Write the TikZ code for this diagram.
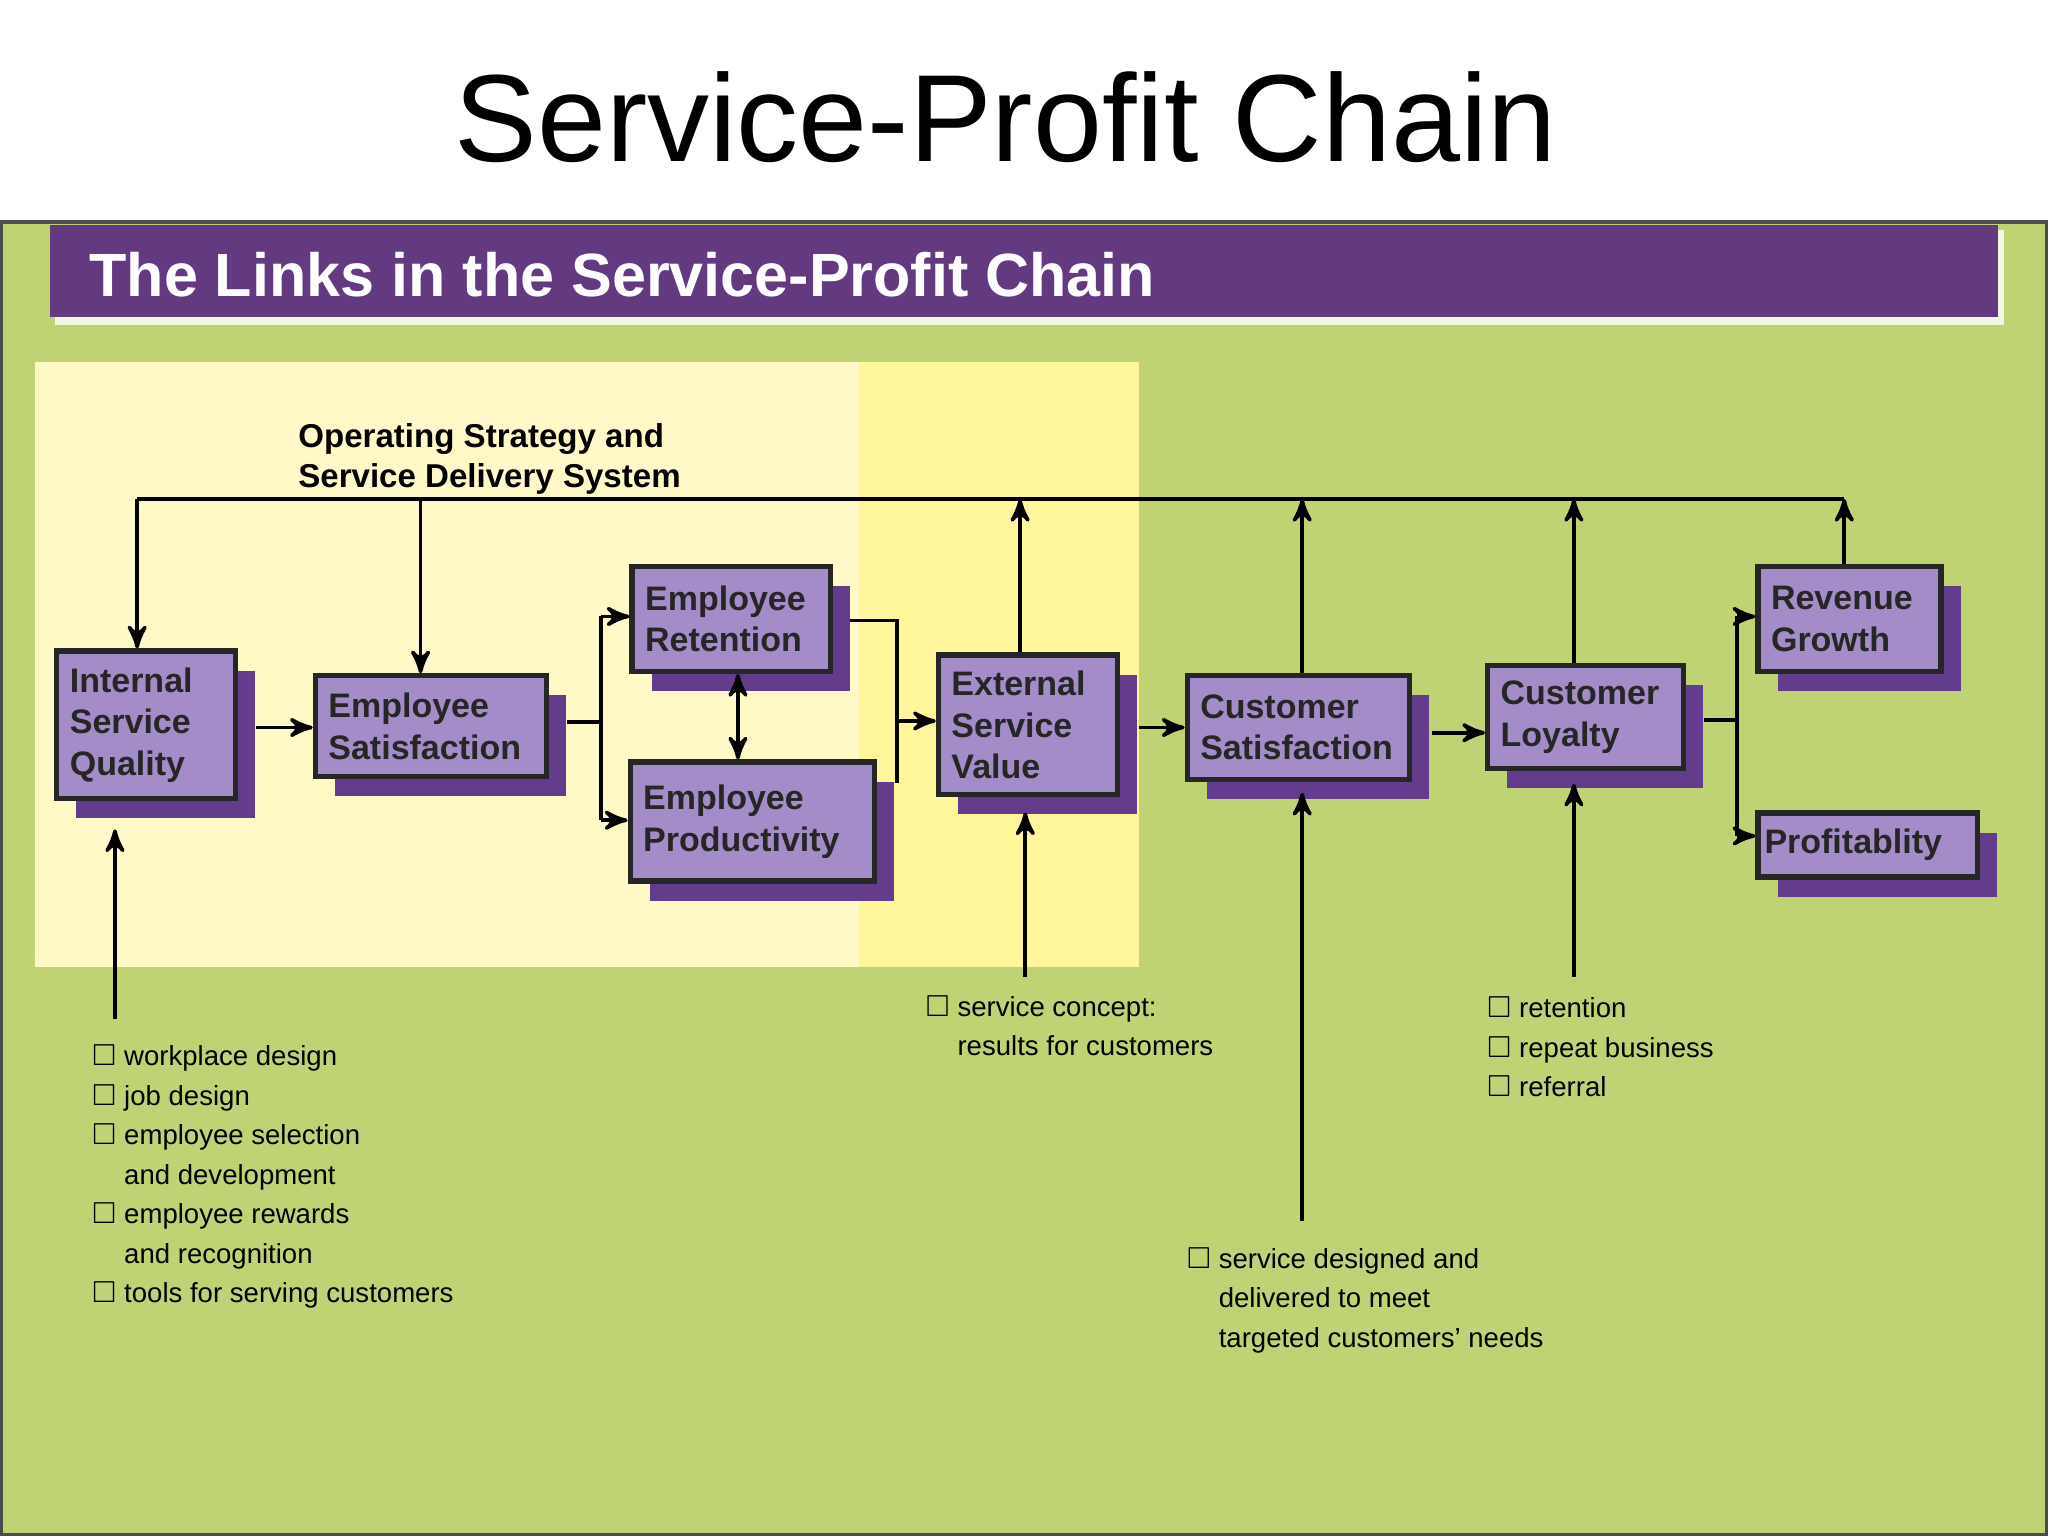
\documentclass[tikz,border=0pt]{standalone}
\usepackage{amssymb}
\usepackage{fontspec}
\setmainfont{Liberation Sans}
\usetikzlibrary{arrows,shadows}
\definecolor{panelgreen}{HTML}{BFD274}
\definecolor{headpurple}{HTML}{633A80}
\definecolor{boxpurple}{HTML}{A48CC8}
\definecolor{shadepurple}{HTML}{643C8C}
\definecolor{paleyellow}{HTML}{FFF9C8}
\definecolor{brightyellow}{HTML}{FFF59A}
\begin{document}
\begin{tikzpicture}[
    x=0.01cm, y=-0.01cm,
    link/.style={%
        draw=black!85, line width=0.4mm, fill=boxpurple,
        drop shadow={shadow xshift=0.15cm, shadow yshift=-0.15cm,
            fill=shadepurple, opacity=1},
        align=left, inner sep=0.1cm, font=\bfseries\fontsize{7.4}{9}\selectfont,
        text=black!85
        },
    wire/.style={thick, black},
    flow/.style={thick, black, ->, >=stealth'},
    note/.style={font=\fontsize{6}{8.6}\selectfont, align=left, anchor=north west}
    ]
    \useasboundingbox (0,0) rectangle (1568,1176);
    % title
    \node (title) at (770,90) {\fontsize{27}{30}\selectfont Service-Profit Chain};
    % panel
    \fill[panelgreen] (0,170) rectangle (1568,1176);
    \draw[black!70, thick] (1,170) rectangle (1567,1175);
    \fill[white!80!panelgreen] (42,176) rectangle (1534,249);
    \fill[headpurple] (38,172) rectangle (1530,243);
    \node[anchor=west, text=white, font=\bfseries\fontsize{13.3}{15}\selectfont] (head) at (56,210)
        {The Links in the Service-Profit Chain};
    \fill[paleyellow] (27,277) rectangle (658,740);
    \fill[brightyellow] (658,277) rectangle (872,740);
    \node[anchor=north west, align=left, font=\bfseries\fontsize{7.2}{8.6}\selectfont] (ops) at (216,312)
        {Operating Strategy and\\Service Delivery System};
    % boxes
    \node[link, minimum width=1.37cm, minimum height=1.13cm, text width=1.17cm] (isq) at (112,555)
        {Internal\\Service\\Quality};
    \node[link, minimum width=1.77cm, minimum height=0.77cm, text width=1.57cm] (es) at (330,556)
        {Employee\\Satisfaction};
    \node[link, minimum width=1.52cm, minimum height=0.80cm, text width=1.32cm] (er) at (560,474)
        {Employee\\Retention};
    \node[link, minimum width=1.87cm, minimum height=0.91cm, text width=1.67cm] (ep) at (576,629)
        {Employee\\Productivity};
    \node[link, minimum width=1.37cm, minimum height=1.07cm, text width=1.17cm] (esv) at (787,555)
        {External\\Service\\Value};
    \node[link, minimum width=1.70cm, minimum height=0.80cm, text width=1.50cm] (cs) at (994,557)
        {Customer\\Satisfaction};
    \node[link, minimum width=1.50cm, minimum height=0.79cm, text width=1.30cm] (cl) at (1214,549)
        {Customer\\Loyalty};
    \node[link, minimum width=1.40cm, minimum height=0.80cm, text width=1.20cm] (rg) at (1416,474)
        {Revenue\\Growth};
    \node[link, minimum width=1.68cm, minimum height=0.49cm, text width=1.58cm, inner sep=0.05cm] (prof) at (1430,647)
        {Profitablity};
    % top feedback line
    \coordinate (tl) at (105,382);
    \coordinate (tr) at (1412,382);
    \draw[wire] (tl) -- (tr);
    \draw[flow] (tl) -- (isq.north -| tl);
    \draw[flow] (322,382) -- (es.north -| 322,0);
    \draw[flow] (esv.north -| 781,0) -- (781,382);
    \draw[flow] (cs.north -| 997,0) -- (997,382);
    \draw[flow] (cl.north -| 1205,0) -- (1205,382);
    \draw[flow] (rg.north -| 1412,0) -- (tr);
    % chain
    \draw[flow] (196,557) -- (es.west |- 0,557);
    \coordinate (b1) at (460,553);
    \draw[wire] (434,553) -- (b1);
    \draw[wire] (460,472) -- (460,628);
    \draw[flow] (460,472) -- (er.west |- 0,472);
    \draw[flow] (460,628) -- (ep.west |- 0,628);
    \draw[flow, <->] (er.south -| 565,0) -- (ep.north -| 565,0);
    \draw[wire] (651,475) -- (687,475) -- (687,598) -- (685,598);
    \draw[flow] (687,552) -- (esv.west |- 0,552);
    \draw[flow] (872,557) -- (cs.west |- 0,557);
    \draw[flow] (1096,561) -- (cl.west |- 0,561);
    \draw[wire] (1305,551) -- (1330,551);
    \draw[wire] (1330,472) -- (1330,640);
    \draw[flow] (1330,472) -- (rg.west |- 0,472);
    \draw[flow] (1330,640) -- (prof.west |- 0,640);
    % drivers from below
    \draw[flow] (88,780) -- (88,635);
    \draw[flow] (785,748) -- (785,622);
    \draw[flow] (997,935) -- (997,607);
    \draw[flow] (1205,748) -- (1205,600);
    % notes
    \node[note] (n1) at (58,788)
        {$\square$ workplace design\\$\square$ job design\\$\square$ employee selection\\
        \hphantom{$\square$ }and development\\$\square$ employee rewards\\
        \hphantom{$\square$ }and recognition\\$\square$ tools for serving customers};
    \node[note] (n2) at (696,750)
        {$\square$ service concept:\\\hphantom{$\square$ }results for customers};
    \node[note] (n3) at (896,943)
        {$\square$ service designed and\\\hphantom{$\square$ }delivered to meet\\
        \hphantom{$\square$ }targeted customers' needs};
    \node[note] (n4) at (1126,751)
        {$\square$ retention\\$\square$ repeat business\\$\square$ referral};
\end{tikzpicture}
\end{document}
